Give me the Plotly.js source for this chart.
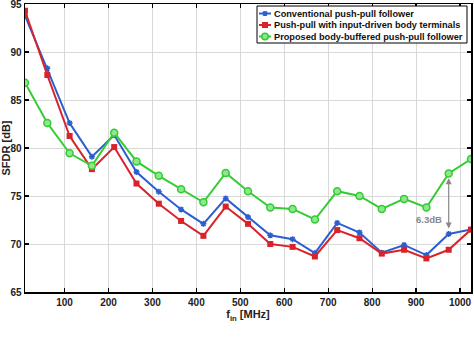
<!DOCTYPE html>
<html><head><meta charset="utf-8">
<script src="https://cdn.plot.ly/plotly-3.0.1.min.js"></script>
<style>html,body{margin:0;padding:0;background:#fff}#c{width:474px;height:347px}</style>
</head><body><div id="c"></div>
<script>
const freq = [10, 60.75, 111.5, 162.25, 213, 263.75, 314.5, 365.25, 416, 466.75, 517.5, 568.25, 619, 669.75, 720.5, 771.25, 822, 872.75, 923.5, 974.25, 1025];
const conventional = [93.8, 88.3, 82.6, 79.1, 81.35, 77.5, 75.45, 73.6, 72.1, 74.75, 72.8, 70.9, 70.5, 69.05, 72.2, 71.2, 69.1, 69.9, 68.85, 71.05, 71.5];
const inputDriven = [94.3, 87.6, 81.25, 77.8, 80.1, 76.3, 74.2, 72.4, 70.85, 73.9, 72.1, 70.0, 69.7, 68.7, 71.45, 70.6, 69.0, 69.4, 68.5, 69.4, 71.5];
const proposed = [86.8, 82.6, 79.45, 78.15, 81.6, 78.6, 77.1, 75.7, 74.35, 77.4, 75.5, 73.8, 73.65, 72.55, 75.5, 75.0, 73.65, 74.7, 73.8, 77.35, 78.85];
const names = ["Conventional push-pull follower", "Push-pull with input-driven body terminals", "Proposed body-buffered push-pull follower"];
const xTicks = [100, 200, 300, 400, 500, 600, 700, 800, 900, 1000];
const yTicks = [65, 70, 75, 80, 85, 90, 95];
const colors = ['#2b5fd0', '#d8232a', '#33cc33'];

const W = 474, H = 347, M = {l: 25, r: 3, t: 4, b: 55};
const pw = W - M.l - M.r, ph = H - M.t - M.b;
const px2x = p => (p - M.l) / pw;
const py2y = p => (H - M.b - p) / ph;

const traces = [
  {x: freq, y: conventional, name: names[0], mode: 'lines+markers', showlegend: false,
   line: {color: colors[0], width: 2}, marker: {symbol: 'asterisk-open', size: 5, color: colors[0], line: {width: 1.5, color: colors[0]}}},
  {x: freq, y: inputDriven, name: names[1], mode: 'lines+markers', showlegend: false,
   line: {color: colors[1], width: 2}, marker: {symbol: 'square', size: 6, color: colors[1]}},
  {x: freq, y: proposed, name: names[2], mode: 'lines+markers', showlegend: false,
   line: {color: colors[2], width: 2}, marker: {symbol: 'circle', size: 7, color: '#8fe68f', line: {width: 1.5, color: colors[2]}}}
];

const axisCommon = {
  showline: true, linecolor: '#000', linewidth: 1.5, mirror: 'ticks',
  ticks: 'inside', ticklen: 4, tickcolor: '#000', tickwidth: 1.2,
  showgrid: true, gridcolor: '#d9d9d9', gridwidth: 1, zeroline: false, ticklabeloverflow: 'allow',
  tickfont: {family: 'Liberation Sans, Arial', size: 10, color: '#222', weight: 'bold'}
};

// custom compact legend (box, samples, labels)
const shapes = [];
const annotations = [];
const legBox = {x0: 257, x1: 467, y0: 6, y1: 43};
shapes.push({type: 'rect', xref: 'paper', yref: 'paper', x0: px2x(legBox.x0), x1: px2x(legBox.x1),
  y0: py2y(legBox.y1), y1: py2y(legBox.y0), line: {color: '#000', width: 1}, fillcolor: '#fff', layer: 'above'});
const rowY = [13.5, 25, 36.5];
names.forEach((n, i) => {
  const yy = py2y(rowY[i]);
  shapes.push({type: 'line', xref: 'paper', yref: 'paper', x0: px2x(259), x1: px2x(271), y0: yy, y1: yy,
    line: {color: colors[i], width: 2}, layer: 'above'});
  const cx = 265, cy = rowY[i];
  if (i === 0) {
    shapes.push({type: 'path', xref: 'paper', yref: 'paper', layer: 'above', line: {color: colors[0], width: 1.5},
      path: `M${px2x(cx-2.5)},${py2y(cy)} L${px2x(cx+2.5)},${py2y(cy)} M${px2x(cx)},${py2y(cy-2.5)} L${px2x(cx)},${py2y(cy+2.5)} M${px2x(cx-2)},${py2y(cy-2)} L${px2x(cx+2)},${py2y(cy+2)} M${px2x(cx-2)},${py2y(cy+2)} L${px2x(cx+2)},${py2y(cy-2)}`});
  } else if (i === 1) {
    shapes.push({type: 'rect', xref: 'paper', yref: 'paper', layer: 'above', x0: px2x(cx-3), x1: px2x(cx+3),
      y0: py2y(cy+3), y1: py2y(cy-3), fillcolor: colors[1], line: {width: 0}});
  } else {
    shapes.push({type: 'circle', xref: 'paper', yref: 'paper', layer: 'above', x0: px2x(cx-3.2), x1: px2x(cx+3.2),
      y0: py2y(cy+3.2), y1: py2y(cy-3.2), fillcolor: '#8fe68f', line: {color: colors[2], width: 1.5}});
  }
  annotations.push({xref: 'paper', yref: 'paper', x: px2x(272), y: yy, xanchor: 'left', yanchor: 'middle',
    text: n, showarrow: false, font: {family: 'Liberation Sans, Arial', size: 9.2, color: '#111', weight: 'bold'}});
});

annotations.push({x: freq[19], y: proposed[19] - 0.5, ax: freq[19], ay: conventional[19] + 0.4, xref: 'x', yref: 'y', axref: 'x', ayref: 'y',
  showarrow: true, arrowhead: 2, startarrowhead: 2, arrowside: 'end+start', arrowsize: 1, arrowwidth: 1.2, arrowcolor: '#888', text: ''});
annotations.push({x: 964, y: 72.6, xref: 'x', yref: 'y', xanchor: 'right', yanchor: 'middle', text: '6.3dB', showarrow: false,
  font: {family: 'Liberation Sans, Arial', size: 9.5, color: '#888', weight: 'bold'}});

const layout = {
  width: W, height: H,
  margin: M,
  paper_bgcolor: '#fff', plot_bgcolor: '#fff',
  showlegend: false,
  xaxis: Object.assign({}, axisCommon, {range: [10, 1025], tickvals: xTicks,
    title: {text: 'f<sub>in</sub> [MHz]', standoff: 4, font: {family: 'Liberation Sans, Arial', size: 11, color: '#222', weight: 'bold'}}}),
  yaxis: Object.assign({}, axisCommon, {range: [65, 95], tickvals: yTicks,
    title: {text: 'SFDR [dB]', standoff: 2, font: {family: 'Liberation Sans, Arial', size: 11, color: '#222', weight: 'bold'}}}),
  shapes: shapes,
  annotations: annotations
};
Plotly.newPlot('c', traces, layout, {displayModeBar: false, staticPlot: true});
</script></body></html>
